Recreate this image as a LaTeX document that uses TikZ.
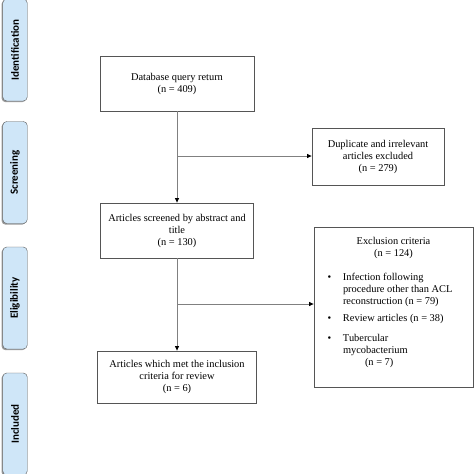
\documentclass[tikz,border=0pt]{standalone}
\usepackage{fontspec}
\setmainfont{Liberation Serif}
\newfontfamily\stagefont{Carlito}
\usetikzlibrary{arrows.meta}
\usetikzlibrary{shadows}
\definecolor{stageblue}{HTML}{CFE6F8}
\definecolor{stageedge}{HTML}{5A5A5A}
\definecolor{boxedge}{HTML}{555555}
\definecolor{linkgray}{HTML}{808080}
\tikzset{
	stage/.style={rectangle, draw=stageedge, fill=stageblue, rounded corners=4pt, rotate=90,
		minimum width=102pt, minimum height=24.5pt, font=\stagefont\bfseries\fontsize{11}{13}\selectfont,
		drop shadow={shadow xshift=-1.2pt, shadow yshift=-1.2pt, fill=gray!80, opacity=1}},
	box/.style={rectangle, draw=boxedge, line width=0.8pt, align=center, inner sep=4pt,
		font=\fontsize{10.4}{12}\selectfont},
	arrow/.style={draw=linkgray, line width=0.8pt, -{Triangle[length=4.5pt, width=4pt, black]}}
}
\begin{document}
\begin{tikzpicture}[x=1pt, y=-1pt]
\useasboundingbox (0,0) rectangle (474,474);

\node[stage] (ident) at (15,50) {Identification};
\node[stage] (screen) at (15,172.5) {Screening};
\node[stage] (elig) at (15,298) {Eligibility};
\node[stage] (incl) at (15,424) {Included};

\node[box, minimum width=154pt, minimum height=55pt] (db) at (177,83.5) {Database query return\\(n = 409)};

\node[box, minimum width=132pt, minimum height=57pt] (dup) at (378,156.5) {Duplicate and irrelevant\\articles excluded\\(n = 279)};

\node[box, minimum width=153pt, minimum height=55pt] (screened) at (177,230.5) {Articles screened by abstract and\\title\\(n = 130)};

\node[box, minimum width=159pt, minimum height=160pt] (excl) at (393.5,307) {\parbox[c][152pt][t]{151pt}{\centering
	\vspace*{6pt}Exclusion criteria\\(n = 124)\\[13pt]
	\begin{tabular}{@{\hspace{9.5pt}}p{15.5pt}@{}p{126pt}@{}}
	\textbullet & Infection following\newline procedure other than ACL\newline reconstruction (n = 79)\\[5pt]
	\textbullet & Review articles (n = 38)\\[8pt]
	\textbullet & Tubercular\newline mycobacterium\newline\hspace*{22pt}(n = 7)
	\end{tabular}}};

\node[box, minimum width=159pt, minimum height=52pt] (included) at (177,377) {Articles which met the inclusion\\criteria for review\\(n = 6)};

\coordinate (split1) at (177,156);
\coordinate (split2) at (177,304);

\draw[arrow] (db) -- (screened);
\draw[arrow] (split1) -- (split1 -| dup.west);
\draw[arrow] (screened) -- (included);
\draw[arrow] (split2) -- (split2 -| excl.west);

\end{tikzpicture}
\end{document}
